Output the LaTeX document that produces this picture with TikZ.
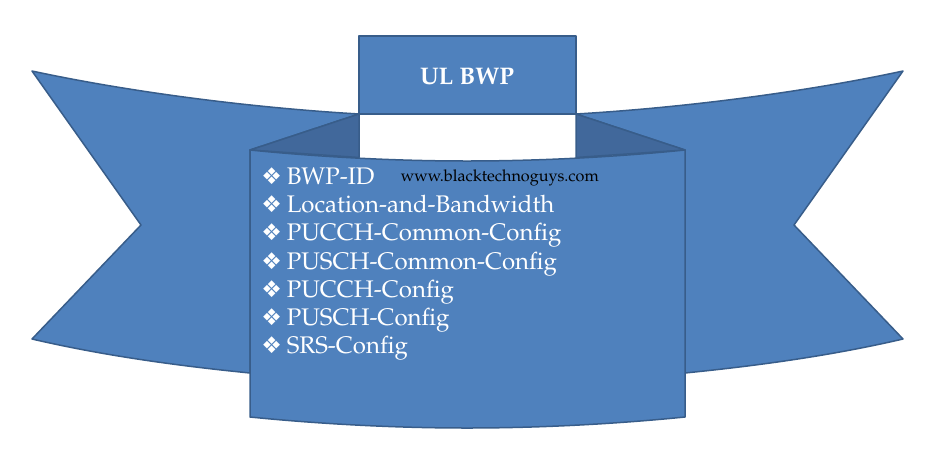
\documentclass[tikz,border=0pt]{standalone}
\usepackage{fontspec}
\usepackage{tikz}
\newfontfamily\dingfont{DejaVu Sans}
\definecolor{ribbonblue}{HTML}{4F81BD}
\definecolor{ribbonline}{HTML}{385D8A}
\definecolor{folddark}{HTML}{41689B}
\newcommand{\itembullet}{\makebox[24pt][l]{\dingfont\fontsize{23}{23}\selectfont\hspace{-1.5pt}\symbol{"2756}}}

\begin{document}
\begin{tikzpicture}[x=1pt, y=-1pt, line width=1.5pt, line join=round,
    ribbonpart/.style={fill=ribbonblue, draw=ribbonline},
    foldpart/.style={fill=folddark, draw=ribbonline},
    itemtext/.style={anchor=base west, inner sep=0pt, text=white, font=\usefont{T1}{ppl}{m}{n}\fontsize{24}{24}\selectfont}]
    \useasboundingbox (0,0) rectangle (928,453);

    % Ends of the ribbon
    \draw[ribbonpart] (359,114) .. controls (240,107) and (120,90) .. (32,71) -- (141,225) -- (32,339) .. controls (105,356) and (180,366) .. (250,373) -- (250,150) -- cycle;
    \draw[ribbonpart] (576,114) .. controls (695,107) and (815,90) .. (903,71) -- (794,225) -- (903,339) .. controls (830,356) and (755,366) .. (685,373) -- (685,150) -- cycle;

    % Folds
    \draw[foldpart] (359,114) -- (250,150) -- (359,157.5) -- cycle;
    \draw[foldpart] (576,114) -- (685,150) -- (576,157.5) -- cycle;

    % Body and top
    \draw[ribbonpart] (250,150) .. controls (320,157) and (395,161) .. (467,161) .. controls (540,161) and (615,157) .. (685,150) -- (685,417) .. controls (615,424) and (540,428) .. (467,428) .. controls (395,428) and (320,424) .. (250,417) -- cycle;
    \draw[ribbonpart] (359,36) rectangle (576,114);
    \node[text=white, font=\usefont{T1}{ppl}{b}{n}\fontsize{24}{24}\selectfont] (title) at (467,76) {UL BWP};

    % List of the parameters
    \foreach \itemname/\ypos/\itemlabel in {bwpid/184/BWP-ID, location/212/Location-and-Bandwidth, pucchcommon/240/PUCCH-Common-Config, puschcommon/269/PUSCH-Common-Config, pucch/297/PUCCH-Config, pusch/325/PUSCH-Config, srs/353/SRS-Config}
        \node[itemtext] (\itemname) at (262,\ypos) {\itembullet\itemlabel};

    \node[anchor=base west, inner sep=0pt, font=\usefont{T1}{ppl}{m}{n}\fontsize{16.2}{17}\selectfont] (site) at (400,181) {www.blacktechnoguys.com};
\end{tikzpicture}
\end{document}
